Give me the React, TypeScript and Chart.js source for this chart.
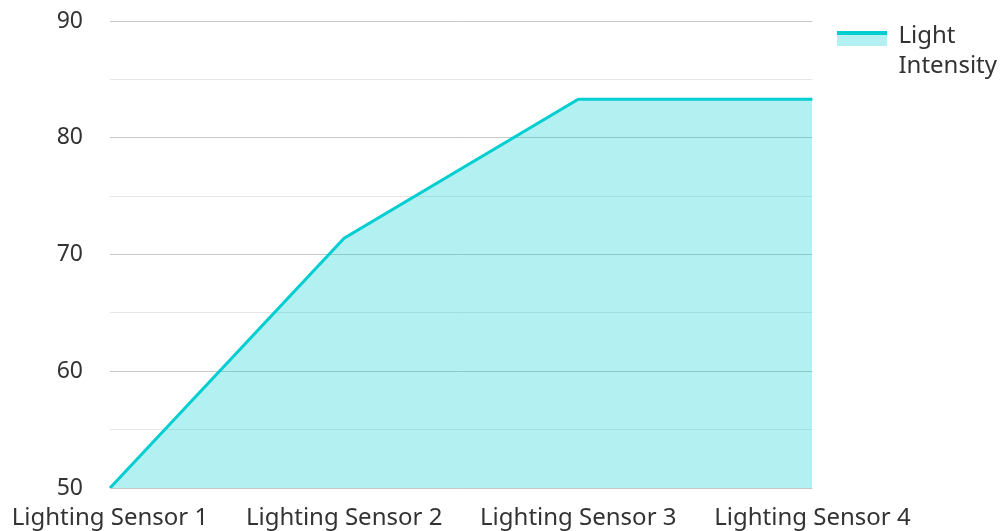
import React, { useEffect, useRef } from "react";
import { Chart, registerables } from "chart.js";

Chart.register(...registerables);

const categories = ["Lighting Sensor 1", "Lighting Sensor 2", "Lighting Sensor 3", "Lighting Sensor 4"];
const lightIntensity = [50, 71.4, 83.3, 83.3];
const seriesLabel = ["Light", "Intensity"];
const yMin = 50;
const yMax = 90;

const LINE = "#00CED1";
const FILL = "rgba(0, 206, 209, 0.3)";
const FONT = "'Noto Sans', sans-serif";

function makeLegendIcon(): HTMLCanvasElement {
  const c = document.createElement("canvas");
  c.width = 50;
  c.height = 20;
  const ctx = c.getContext("2d")!;
  ctx.fillStyle = FILL;
  ctx.fillRect(0, 5, 50, 15);
  ctx.fillStyle = LINE;
  ctx.fillRect(0, 5, 50, 4);
  return c;
}

export default function App() {
  const ref = useRef<HTMLCanvasElement | null>(null);
  useEffect(() => {
    if (!ref.current) return;
    const icon = makeLegendIcon();
    const chart = new Chart(ref.current, {
      type: "line",
      data: {
        labels: categories,
        datasets: [
          {
            label: seriesLabel as any,
            data: lightIntensity,
            borderColor: LINE,
            backgroundColor: FILL,
            borderWidth: 3,
            fill: "origin",
            pointRadius: 0,
            tension: 0,
          },
        ],
      },
      options: {
        animation: false,
        responsive: false,
        maintainAspectRatio: false,
        layout: { padding: { top: -2, right: -5, bottom: 0, left: 0 } },
        plugins: {
          legend: {
            position: "right",
            align: "start",
            labels: {
              font: { family: FONT, size: 24, lineHeight: 1.25 },
              color: "#333",
              boxWidth: 48,
              boxHeight: 15,
              pointStyleWidth: 48,
              padding: 26,
              usePointStyle: true,
              generateLabels: () => [
                {
                  text: seriesLabel as any,
                  fillStyle: FILL,
                  strokeStyle: LINE,
                  lineWidth: 0,
                  pointStyle: icon as any,
                  datasetIndex: 0,
                  fontColor: "#333",
                },
              ],
            },
          },
          tooltip: { enabled: false },
        },
        scales: {
          x: {
            offset: false,
            grid: { display: false, drawTicks: false },
            border: { display: false },
            ticks: { font: { family: FONT, size: 24 }, color: "#333", padding: 16, maxRotation: 0 },
            afterFit: (s: any) => {
              s.height = 43;
              s.paddingLeft = 110;
              s.paddingRight = 0;
            },
          },
          y: {
            min: yMin,
            max: yMax,
            grid: {
              drawTicks: false,
              color: (ctx: any) => (ctx.tick && ctx.tick.value % 10 === 0 ? "#c8c8c8" : "#e6e6e6"),
              lineWidth: 1,
            },
            border: { display: false },
            ticks: {
              stepSize: 5,
              font: { family: FONT, size: 23 },
              color: "#333",
              padding: 27,
              callback: (v: any) => (Number(v) % 10 === 0 ? String(v) : ""),
            },
            afterFit: (s: any) => {
              s.paddingTop = 21;
              s.paddingBottom = 0;
            },
          },
        },
      },
    });
    return () => chart.destroy();
  }, []);
  return (
    <div style={{ position: "fixed", left: 0, top: 0, width: 1002, height: 531, background: "#fff" }}>
      <canvas ref={ref} width={1002} height={531} style={{ width: 1002, height: 531 }} />
    </div>
  );
}
